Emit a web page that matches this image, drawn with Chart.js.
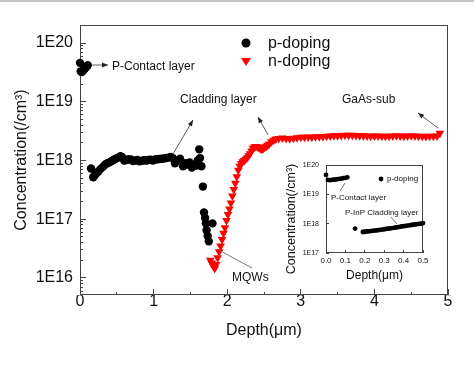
<!DOCTYPE html>
<html>
<head>
<meta charset="utf-8">
<script src="https://cdn.jsdelivr.net/npm/chart.js@4.4.0/dist/chart.umd.min.js"></script>
<style>
html, body { margin: 0; padding: 0; background: #fff; }
#wrap { position: relative; width: 474px; height: 365px; overflow: hidden; }
#main { position: absolute; left: 0; top: 0; }
#inset { position: absolute; left: 270px; top: 150px; }
#topline { position: absolute; left: 0; top: 0; width: 474px; height: 2px; background: #c4c4c4; }
</style>
</head>
<body>
<div id="wrap">
  <canvas id="main" width="474" height="365"></canvas>
  <canvas id="inset" width="165" height="140"></canvas>
  <div id="topline"></div>
</div>
<script>
// ---- data ----
const pDepth = [0.00, 0.01, 0.02, 0.03, 0.045, 0.06, 0.075, 0.09, 0.105,
  0.15, 0.18, 0.20, 0.22, 0.25, 0.28, 0.31, 0.34, 0.37, 0.40, 0.43, 0.46, 0.49, 0.52, 0.55, 0.57,
  0.60, 0.63, 0.66, 0.69, 0.72, 0.75, 0.78, 0.81, 0.84, 0.87, 0.90, 0.93, 0.96, 0.99, 1.02, 1.05,
  1.08, 1.11, 1.14, 1.17, 1.20, 1.23, 1.26, 1.29, 1.32, 1.36, 1.40, 1.43, 1.46, 1.49, 1.52, 1.55,
  1.58, 1.60, 1.62, 1.63, 1.65, 1.67, 1.685, 1.70, 1.71, 1.72, 1.735, 1.75, 1.80];
const pConc = [4.6e19, 3.3e19, 3.2e19, 3.3e19, 3.4e19, 3.6e19, 3.8e19, 4.0e19, 4.2e19,
  7.3e17, 5.2e17, 5.6e17, 6.0e17, 6.5e17, 7.2e17, 7.8e17, 8.5e17, 9.0e17, 9.3e17, 9.8e17, 1.03e18, 1.08e18, 1.12e18, 1.18e18, 1.15e18,
  1.0e18, 1.02e18, 1.05e18, 1.04e18, 9.8e17, 1.0e18, 1.02e18, 9.7e17, 9.9e17, 1.01e18, 1.0e18, 1.02e18, 1.03e18, 1.0e18, 1.04e18, 1.05e18,
  1.06e18, 1.07e18, 1.08e18, 1.1e18, 1.12e18, 1.15e18, 1.1e18, 9.0e17, 1.0e18, 1.07e18, 8.0e17, 9.0e17, 8.5e17, 9.3e17, 7.6e17, 8.4e17,
  8.2e17, 1.0e18, 1.55e18, 1.1e18, 8.0e17, 3.6e17, 1.3e17, 1.05e17, 8.5e16, 6.5e16, 5.2e16, 4.2e16, 8.5e16];

const nDepth = [1.77, 1.79, 1.81, 1.83, 1.85, 1.87, 1.89, 1.91, 1.93, 1.95, 1.97, 1.99, 2.01, 2.03,
  2.05, 2.07, 2.09, 2.11, 2.13, 2.15, 2.17, 2.19, 2.21, 2.23, 2.25, 2.27, 2.29, 2.31, 2.33, 2.35,
  2.37, 2.39, 2.41, 2.43, 2.45, 2.47, 2.49, 2.51, 2.53, 2.55, 2.57, 2.60, 2.63, 2.66, 2.70, 2.75, 2.80,
  2.85, 2.90, 2.95, 3.00, 3.05, 3.10, 3.15, 3.20, 3.25, 3.30, 3.35, 3.40, 3.45, 3.50, 3.55, 3.60,
  3.65, 3.70, 3.75, 3.80, 3.85, 3.90, 3.95, 4.00, 4.05, 4.10, 4.15, 4.20, 4.25, 4.30, 4.35, 4.40,
  4.45, 4.50, 4.55, 4.60, 4.65, 4.70, 4.75, 4.80, 4.85, 4.89];
const nConc = [2.0e16, 1.8e16, 1.6e16, 1.45e16, 1.7e16, 2.2e16, 2.8e16, 3.5e16, 4.5e16, 5.8e16, 7.2e16, 9.5e16, 1.2e17, 1.5e17,
  1.9e17, 2.5e17, 3.2e17, 4.1e17, 5.3e17, 6.8e17, 8.0e17, 8.9e17, 9.5e17, 1.0e18, 1.05e18, 1.12e18, 1.2e18, 1.3e18, 1.45e18, 1.62e18,
  1.7e18, 1.74e18, 1.72e18, 1.66e18, 1.6e18, 1.56e18, 1.6e18, 1.68e18, 1.75e18, 1.82e18, 1.92e18, 2.08e18, 2.22e18, 2.32e18, 2.38e18, 2.42e18, 2.38e18,
  2.35e18, 2.4e18, 2.45e18, 2.48e18, 2.5e18, 2.52e18, 2.5e18, 2.53e18, 2.55e18, 2.57e18, 2.6e18, 2.62e18, 2.63e18, 2.65e18, 2.67e18, 2.68e18,
  2.7e18, 2.68e18, 2.66e18, 2.65e18, 2.63e18, 2.62e18, 2.6e18, 2.61e18, 2.62e18, 2.6e18, 2.58e18, 2.6e18, 2.62e18, 2.63e18, 2.62e18, 2.6e18,
  2.61e18, 2.63e18, 2.62e18, 2.6e18, 2.58e18, 2.57e18, 2.58e18, 2.6e18, 2.62e18, 2.9e18];

const insetDepth = [0.00, 0.01, 0.02, 0.03, 0.04, 0.05, 0.06, 0.07, 0.08, 0.09, 0.10, 0.11, 0.15,
  0.19, 0.20, 0.21, 0.22, 0.23, 0.24, 0.25, 0.26, 0.27, 0.28, 0.29, 0.30, 0.31, 0.32, 0.33, 0.34,
  0.35, 0.36, 0.37, 0.38, 0.39, 0.40, 0.41, 0.42, 0.43, 0.44, 0.45, 0.46, 0.47, 0.48, 0.49, 0.50];
const insetConc = [4.6e19, 3.1e19, 3.05e19, 3.1e19, 3.15e19, 3.2e19, 3.3e19, 3.35e19, 3.45e19, 3.55e19, 3.65e19, 3.8e19, 6.8e17,
  5.2e17, 5.3e17, 5.4e17, 5.5e17, 5.6e17, 5.7e17, 5.8e17, 5.9e17, 6.0e17, 6.15e17, 6.3e17, 6.45e17, 6.6e17, 6.75e17, 6.9e17, 7.05e17,
  7.2e17, 7.4e17, 7.6e17, 7.8e17, 8.0e17, 8.2e17, 8.4e17, 8.6e17, 8.8e17, 9.0e17, 9.2e17, 9.4e17, 9.6e17, 9.8e17, 1.0e18, 1.05e18];

const seriesNames = ['p-doping', 'n-doping'];
const yMajor = [1e16, 1e17, 1e18, 1e19, 1e20];
const insetYMajor = [1e17, 1e18, 1e19, 1e20];
const xMajor = [0, 1, 2, 3, 4, 5];
const xMinor = [0.5, 1.5, 2.5, 3.5, 4.5];
const insetXMajor = [0, 0.1, 0.2, 0.3, 0.4, 0.5];

const Y_MIN = 5.13e15, Y_MAX = 2.03e20;

// ---- helpers ----
const FONT = '"Liberation Sans", Arial, sans-serif';
Chart.defaults.font.family = FONT;
Chart.defaults.color = '#111';

function pts(xs, ys) { return xs.map((x, i) => ({ x: x, y: ys[i] })); }
function eLabel(v) { return '1E' + Math.round(Math.log10(v)); }
function minorLog(lo, hi, min, max) {
  const out = [];
  for (let e = lo; e <= hi; e++) for (let m = 2; m <= 9; m++) {
    const v = m * Math.pow(10, e);
    if (v >= min && v <= max) out.push(v);
  }
  return out;
}
function setTicks(list) { return function (scale) { scale.ticks = list.map(v => ({ value: v })); }; }
function fixW(w) { return function (scale) { scale.width = w; }; }
function fixH(h) { return function (scale) { scale.height = h; }; }

function arrow(ctx, x1, y1, x2, y2, head) {
  ctx.beginPath(); ctx.moveTo(x1, y1); ctx.lineTo(x2, y2); ctx.stroke();
  if (!head) return;
  const a = Math.atan2(y2 - y1, x2 - x1);
  ctx.beginPath();
  ctx.moveTo(x2, y2);
  ctx.lineTo(x2 - head * Math.cos(a) + head * 0.4 * Math.sin(a), y2 - head * Math.sin(a) - head * 0.4 * Math.cos(a));
  ctx.lineTo(x2 - head * Math.cos(a) - head * 0.4 * Math.sin(a), y2 - head * Math.sin(a) + head * 0.4 * Math.cos(a));
  ctx.closePath(); ctx.fill();
}

const framePlugin = {
  id: 'frame',
  beforeDatasetsDraw(chart) {
    const a = chart.chartArea, ctx = chart.ctx;
    ctx.save();
    ctx.strokeStyle = '#444';
    ctx.lineWidth = 1;
    ctx.strokeRect(Math.round(a.left) + 0.5, Math.round(a.top) + 0.5, Math.round(a.right - a.left) - 1, Math.round(a.bottom - a.top) - 1);
    ctx.restore();
  }
};

const mainNotes = {
  id: 'mainNotes',
  afterDraw(chart) {
    const ctx = chart.ctx;
    ctx.save();
    // legend
    ctx.fillStyle = '#000';
    ctx.beginPath(); ctx.arc(246, 43, 4.5, 0, Math.PI * 2); ctx.fill();
    ctx.fillStyle = '#f00';
    ctx.beginPath(); ctx.moveTo(241, 58); ctx.lineTo(251, 58); ctx.lineTo(246, 66); ctx.closePath(); ctx.fill();
    ctx.fillStyle = '#111';
    ctx.font = '16px ' + FONT;
    ctx.textBaseline = 'middle';
    ctx.fillText(seriesNames[0], 268, 44);
    ctx.fillText(seriesNames[1], 268, 62);
    // labels
    ctx.font = '12px ' + FONT;
    ctx.fillText('P-Contact layer', 112, 67);
    ctx.fillText('Cladding layer', 180, 100);
    ctx.fillText('GaAs-sub', 342, 100);
    ctx.fillText('MQWs', 232, 278);
    // arrows
    ctx.strokeStyle = '#333'; ctx.fillStyle = '#222'; ctx.lineWidth = 0.8;
    arrow(ctx, 92, 65, 108, 65, 6);
    arrow(ctx, 173, 154, 193, 120, 6);
    arrow(ctx, 268, 135, 258, 117, 6);
    arrow(ctx, 438, 128, 418, 113, 6);
    ctx.strokeStyle = '#555';
    arrow(ctx, 217, 249, 252, 268, 0);
    ctx.restore();
  }
};

new Chart(document.getElementById('main'), {
  type: 'scatter',
  data: {
    datasets: [
      { label: seriesNames[0], data: pts(pDepth, pConc), pointStyle: 'circle', pointRadius: 4.2,
        backgroundColor: '#000', borderColor: '#000', borderWidth: 0, clip: false },
      { label: seriesNames[1], data: pts(nDepth, nConc), pointStyle: 'triangle', rotation: 180, pointRadius: 5,
        backgroundColor: '#f00', borderColor: '#f00', borderWidth: 0, clip: false }
    ]
  },
  options: {
    responsive: false, animation: false, devicePixelRatio: 1,
    layout: { padding: { left: 0, top: 25, right: 26, bottom: 0 } },
    plugins: { legend: { display: false }, tooltip: { enabled: false } },
    scales: {
      x: {
        type: 'linear', position: 'bottom', min: 0, max: 5, weight: 1,
        afterBuildTicks: setTicks(xMajor), afterFit: fixH(70),
        grid: { drawOnChartArea: false, tickLength: -6, tickColor: '#444', tickWidth: 1 },
        border: { display: false },
        ticks: { autoSkip: false, padding: 3, font: { size: 16 }, color: '#111', callback: v => String(v) },
        title: { display: true, text: 'Depth(μm)', font: { size: 16 }, color: '#111', padding: { top: 0, bottom: 25 } }
      },
      x2: {
        type: 'linear', position: 'bottom', min: 0, max: 5, weight: 0,
        afterBuildTicks: setTicks(xMinor), afterFit: fixH(0),
        grid: { drawOnChartArea: false, tickLength: -3, tickColor: '#444', tickWidth: 1 },
        border: { display: false },
        ticks: { display: false, autoSkip: false }
      },
      y: {
        type: 'logarithmic', position: 'left', min: Y_MIN, max: Y_MAX, weight: 1,
        afterBuildTicks: setTicks(yMajor), afterFit: fixW(80),
        grid: { drawOnChartArea: false, tickLength: -6, tickColor: '#444', tickWidth: 1 },
        border: { display: false },
        ticks: { autoSkip: false, padding: 13, font: { size: 16 }, color: '#111', callback: v => eLabel(v) },
        title: { display: true, text: 'Concentration(/cm³)', font: { size: 16 }, color: '#111', padding: { top: 12, bottom: 0 } }
      },
      y2: {
        type: 'logarithmic', position: 'left', min: Y_MIN, max: Y_MAX, weight: 0,
        afterBuildTicks: setTicks(minorLog(15, 20, Y_MIN, Y_MAX)), afterFit: fixW(0),
        grid: { drawOnChartArea: false, tickLength: -3, tickColor: '#444', tickWidth: 1 },
        border: { display: false },
        ticks: { display: false, autoSkip: false }
      }
    }
  },
  plugins: [framePlugin, mainNotes]
});

const insetNotes = {
  id: 'insetNotes',
  afterDraw(chart) {
    const ctx = chart.ctx;
    const ox = 270, oy = 150;
    ctx.save();
    ctx.translate(-ox, -oy);
    ctx.fillStyle = '#000';
    ctx.beginPath(); ctx.arc(381, 179, 2.4, 0, Math.PI * 2); ctx.fill();
    ctx.fillStyle = '#111';
    ctx.textBaseline = 'middle';
    ctx.font = '8px ' + FONT;
    ctx.fillText(seriesNames[0], 387, 179);
    ctx.fillText('P-Contact layer', 331, 198);
    ctx.fillText('P-InP Cladding layer', 345, 213);
    ctx.strokeStyle = '#333'; ctx.lineWidth = 0.7;
    arrow(ctx, 345, 183, 340, 191, 0);
    arrow(ctx, 391, 217, 397, 224, 0);
    // rotated y title
    ctx.translate(292, 219);
    ctx.rotate(-Math.PI / 2);
    ctx.textAlign = 'center';
    ctx.font = '12.5px ' + FONT;
    ctx.fillText('Concentration(/cm³)', 0, 0);
    ctx.restore();
  }
};

new Chart(document.getElementById('inset'), {
  type: 'scatter',
  data: {
    datasets: [
      { label: seriesNames[0], data: pts(insetDepth, insetConc), pointStyle: 'circle', pointRadius: 2.4,
        backgroundColor: '#000', borderColor: '#000', borderWidth: 0, clip: false }
    ]
  },
  options: {
    responsive: false, animation: false, devicePixelRatio: 1,
    layout: { padding: { left: 0, top: 15, right: 12, bottom: 0 } },
    plugins: { legend: { display: false }, tooltip: { enabled: false } },
    scales: {
      x: {
        type: 'linear', position: 'bottom', min: 0, max: 0.5,
        afterBuildTicks: setTicks(insetXMajor), afterFit: fixH(37),
        grid: { drawOnChartArea: false, tickLength: -3, tickColor: '#444', tickWidth: 1 },
        border: { display: false },
        ticks: { autoSkip: false, padding: 6, font: { size: 8 }, color: '#111', callback: v => v.toFixed(1) },
        title: { display: true, text: 'Depth(μm)', font: { size: 12 }, color: '#111', padding: { top: 0, bottom: 7 } }
      },
      y: {
        type: 'logarithmic', position: 'left', min: 1e17, max: 1e20,
        afterBuildTicks: setTicks(insetYMajor), afterFit: fixW(56),
        grid: { drawOnChartArea: false, tickLength: -3, tickColor: '#444', tickWidth: 1 },
        border: { display: false },
        ticks: { autoSkip: false, padding: 10, font: { size: 7 }, color: '#111', callback: v => eLabel(v) },
        title: { display: false }
      }
    }
  },
  plugins: [framePlugin, insetNotes]
});
</script>
</body>
</html>
